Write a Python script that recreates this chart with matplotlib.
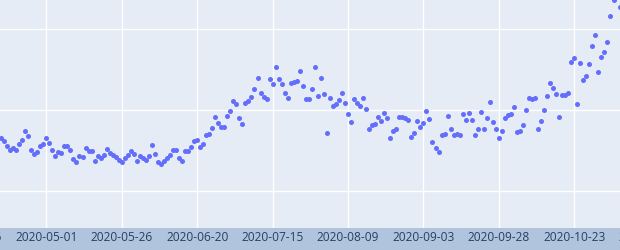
import matplotlib
matplotlib.use("Agg")
import matplotlib.pyplot as plt
import matplotlib.dates as mdates
import matplotlib.transforms as mtransforms
import numpy as np
import pandas as pd

# daily values, 2020-04-16 .. 2020-11-07
start_date = "2020-04-16"
values = [
    6.54, 6.17, 5.56, 5.06, 5.31, 5.06, 5.80, 6.30, 7.41, 6.79,
    5.06, 4.57, 4.81, 5.56, 5.80, 6.54, 5.93, 5.06, 4.32, 4.81,
    4.69, 5.56, 5.56, 5.06, 3.95, 3.58, 4.32, 4.20, 5.31, 4.94,
    4.94, 3.70, 4.32, 4.07, 4.44, 5.19, 4.69, 4.44, 4.20, 3.83,
    3.58, 4.07, 4.44, 4.94, 4.57, 3.70, 4.32, 4.07, 3.83, 4.32,
    5.68, 4.57, 3.58, 3.33, 3.70, 4.07, 4.44, 5.06, 5.06, 4.07,
    3.70, 4.94, 4.94, 5.43, 6.17, 6.30, 5.43, 5.80, 6.91, 7.04,
    7.78, 9.14, 8.40, 7.90, 7.90, 9.26, 9.88, 11.11, 10.74, 9.01,
    8.27, 10.86, 11.11, 11.60, 12.59, 13.95, 12.10, 11.60, 11.36, 13.83,
    13.21, 15.31, 13.83, 13.21, 12.10, 11.48, 13.33, 13.46, 13.58, 14.81,
    12.96, 11.36, 11.36, 12.59, 15.31, 11.73, 13.95, 11.98, 7.16, 11.48,
    10.49, 10.74, 11.23, 12.10, 10.86, 9.51, 8.52, 11.36, 10.86, 10.49,
    11.48, 10.12, 7.65, 8.15, 8.27, 9.14, 8.64, 9.63, 9.01, 6.54,
    7.41, 7.65, 9.14, 9.14, 9.01, 8.77, 6.67, 7.16, 8.64, 7.90,
    8.40, 9.88, 8.89, 6.05, 5.31, 4.81, 6.91, 7.04, 9.26, 7.65,
    6.91, 7.04, 6.91, 9.51, 8.77, 9.63, 8.77, 6.91, 7.65, 9.75,
    7.65, 9.01, 10.99, 8.52, 7.65, 6.54, 7.41, 9.01, 9.38, 9.51,
    10.37, 7.28, 7.41, 8.15, 10.00, 11.48, 11.36, 11.48, 7.65, 8.64,
    10.00, 11.73, 13.33, 12.72, 11.98, 9.14, 11.85, 11.85, 12.10, 15.93,
    16.42, 10.74, 15.80, 13.70, 14.20, 15.68, 17.90, 19.26, 14.69, 16.54,
    17.16, 18.40, 21.60, 23.58, 24.69, 22.72,
]
dates = pd.date_range(start_date, periods=len(values), freq="D")

tick_dates = ["2020-04-06", "2020-05-01", "2020-05-26", "2020-06-20",
              "2020-07-15", "2020-08-09", "2020-09-03", "2020-09-28",
              "2020-10-23", "2020-11-17"]
y_ticks = [0, 10, 20]

fig = plt.figure(figsize=(6.2, 2.51), dpi=100)
fig.patch.set_facecolor("#b0c4de")
ax = fig.add_axes([0, 22 / 251, 1, 229 / 251])
ax.set_facecolor("#e5ecf6")

ax.scatter(dates, values, s=13, color="#636efa", linewidths=0, zorder=3)

ticks = pd.to_datetime(tick_dates)
ax.set_xticks(ticks)
ax.set_xticklabels([])
ax.set_yticks(y_ticks)
ax.set_yticklabels([])
ax.tick_params(length=0)
ax.grid(True, color="white", linewidth=1.0)
ax.set_axisbelow(True)
for s in ax.spines.values():
    s.set_visible(False)

# limits after the ticks, since set_xticks widens the view
x0 = pd.Timestamp("2020-05-01")
ax.set_xlim(x0 - pd.Timedelta(days=15.35), x0 + pd.Timedelta(days=190.15))
ax.set_ylim(-4.57, 23.70)

trans = mtransforms.blended_transform_factory(ax.transData, ax.transAxes)
for t, lab in zip(ticks, tick_dates):
    ax.text(mdates.date2num(t), -9 / 229, lab, transform=trans,
            ha="center", va="center", fontsize=8.6, family="Open Sans",
            color="#2a3f5f", clip_on=False)

plt.savefig("out.png", dpi=100, facecolor=fig.get_facecolor())
